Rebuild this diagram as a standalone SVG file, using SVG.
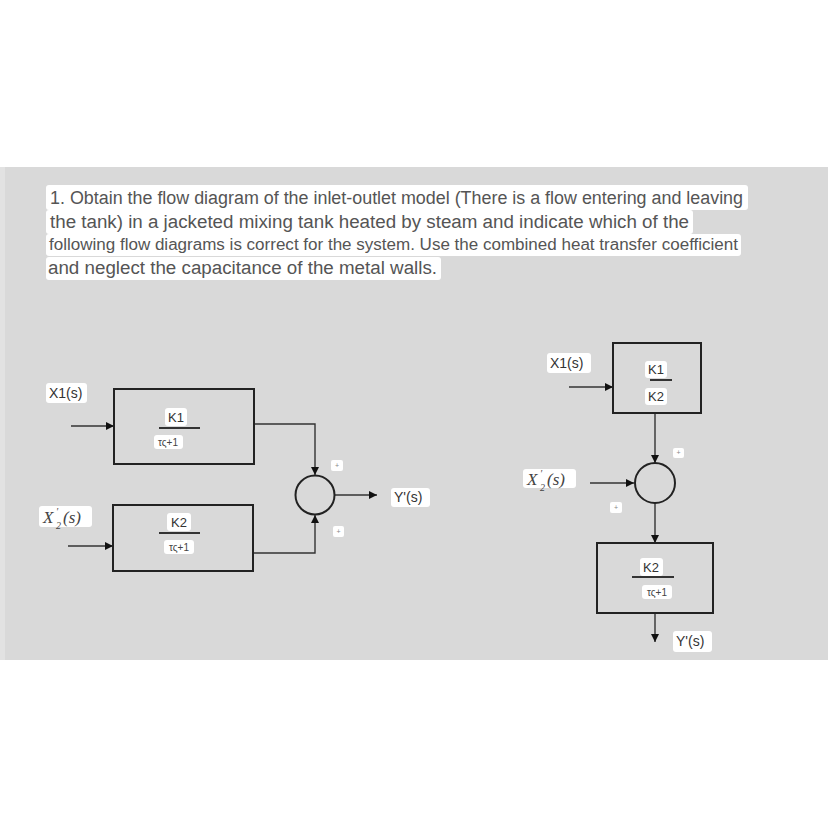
<svg xmlns="http://www.w3.org/2000/svg" width="828" height="828" viewBox="0 0 828 828">
<style>
.q{font-family:"Liberation Sans",Arial,sans-serif;fill:#555}
.lbl{font-family:"Liberation Sans",Arial,sans-serif;font-size:14px;fill:#333}
.math{font-family:"Liberation Serif","Times New Roman",serif;font-style:italic;fill:#444}
.frac{font-family:"Liberation Sans",Arial,sans-serif;font-size:13px;fill:#333;text-anchor:middle}
.den{font-family:"Liberation Sans",Arial,sans-serif;font-size:10px;fill:#444;text-anchor:middle}
.hl{fill:#fff;rx:3}
.tag{fill:#fff;rx:2}
.blk{fill:none;stroke:#222;stroke-width:2}
.wire{fill:none;stroke:#333;stroke-width:1.4}
.bar{stroke:#333;stroke-width:2}
.plus{font-family:"Liberation Sans",Arial,sans-serif;font-size:7px;fill:#888;text-anchor:middle}
</style>
<defs>
<marker id="ah" viewBox="0 0 10 10" refX="10" refY="5" markerWidth="8" markerHeight="8" markerUnits="userSpaceOnUse" orient="auto">
<path d="M0,0 L10,5 L0,10 z" fill="#111"/>
</marker>
</defs>
<rect x="0" y="0" width="828" height="828" fill="#fff"/>
<rect x="0" y="167" width="828" height="493" fill="#d9d9d9"/>
<rect x="0" y="167" width="5" height="493" fill="#e2e2e2"/>

<g id="question">
<rect class="hl" x="46" y="185" width="702" height="25"/>
<rect class="hl" x="46" y="210" width="647" height="24"/>
<rect class="hl" x="46" y="234" width="695" height="22"/>
<rect class="hl" x="46" y="257" width="395" height="23"/>
<text class="q" x="50" y="204" font-size="18" textLength="693" lengthAdjust="spacingAndGlyphs">1. Obtain the flow diagram of the inlet-outlet model (There is a flow entering and leaving</text>
<text class="q" x="50" y="228" font-size="18" textLength="639" lengthAdjust="spacingAndGlyphs">the tank) in a jacketed mixing tank heated by steam and indicate which of the</text>
<text class="q" x="49" y="250" font-size="16" textLength="689" lengthAdjust="spacingAndGlyphs">following flow diagrams is correct for the system. Use the combined heat transfer coefficient</text>
<text class="q" x="48" y="274" font-size="18" textLength="389" lengthAdjust="spacingAndGlyphs">and neglect the capacitance of the metal walls.</text>
</g>

<g id="connectors">
<line class="wire" x1="71" y1="426" x2="114" y2="426" marker-end="url(#ah)"/>
<line class="wire" x1="68" y1="546" x2="113" y2="546" marker-end="url(#ah)"/>
<polyline class="wire" points="254,424 315,424 315,475" marker-end="url(#ah)"/>
<polyline class="wire" points="253,553 315,553 315,515" marker-end="url(#ah)"/>
<line class="wire" x1="334" y1="495" x2="377" y2="495" marker-end="url(#ah)"/>
<line class="wire" x1="569" y1="387" x2="613" y2="387" marker-end="url(#ah)"/>
<line class="wire" x1="655" y1="413" x2="655" y2="463" marker-end="url(#ah)"/>
<line class="wire" x1="590" y1="483" x2="634" y2="483" marker-end="url(#ah)"/>
<line class="wire" x1="655" y1="503" x2="655" y2="543" marker-end="url(#ah)"/>
<line class="wire" x1="655" y1="613" x2="655" y2="642" marker-end="url(#ah)"/>
</g>

<g id="left-x1-label">
<rect class="hl" x="46" y="383" width="41" height="20"/>
<text class="lbl" x="49" y="398">X1(s)</text>
</g>
<g id="left-block-1">
<rect class="blk" x="114" y="389" width="140" height="75"/>
<rect class="hl" x="165" y="408" width="22" height="18"/>
<text class="frac" x="176" y="422">K1</text>
<line class="bar" x1="159" y1="428" x2="200" y2="428"/>
<rect class="hl" x="154" y="435" width="29" height="14"/>
<text class="den" x="168" y="446">τς+1</text>
</g>
<g id="left-x2-label">
<rect class="hl" x="39" y="506" width="53" height="21"/>
<text class="math" font-size="17"><tspan x="43" y="523">X</tspan><tspan x="56" y="515" font-size="10">′</tspan><tspan x="56" y="529" font-size="10">2</tspan><tspan x="63" y="523">(s)</tspan></text>
</g>
<g id="left-block-2">
<rect class="blk" x="113" y="505" width="140" height="66"/>
<rect class="hl" x="167" y="513" width="24" height="18"/>
<text class="frac" x="179" y="527">K2</text>
<line class="bar" x1="159" y1="533" x2="200" y2="533"/>
<rect class="hl" x="164" y="540" width="30" height="14"/>
<text class="den" x="179" y="551">τς+1</text>
</g>
<g id="left-sum">
<circle cx="315" cy="495" r="19.5" fill="none" stroke="#222" stroke-width="2"/>
<rect class="tag" x="331" y="460" width="12" height="11"/>
<text class="plus" x="337" y="468">+</text>
<rect class="tag" x="333" y="526" width="11" height="11"/>
<text class="plus" x="338.5" y="534">+</text>
</g>
<g id="left-y-label">
<rect class="hl" x="391" y="488" width="39" height="19"/>
<text class="lbl" x="394" y="502">Y'(s)</text>
</g>

<g id="right-x1-label">
<rect class="hl" x="547" y="353" width="44" height="20"/>
<text class="lbl" x="550" y="368">X1(s)</text>
</g>
<g id="right-block-1">
<rect class="blk" x="613" y="343" width="88" height="70"/>
<rect class="hl" x="645" y="361" width="22" height="17"/>
<text class="frac" x="656" y="374">K1</text>
<line class="bar" x1="650" y1="380" x2="672" y2="380"/>
<rect class="hl" x="645" y="388" width="22" height="17"/>
<text class="frac" x="656" y="401">K2</text>
</g>
<g id="right-x2-label">
<rect class="hl" x="523" y="469" width="53" height="19"/>
<text class="math" font-size="17"><tspan x="527" y="485">X</tspan><tspan x="540" y="477" font-size="10">′</tspan><tspan x="540" y="491" font-size="10">2</tspan><tspan x="547" y="485">(s)</tspan></text>
</g>
<g id="right-sum">
<circle cx="655" cy="483" r="20" fill="none" stroke="#222" stroke-width="2"/>
<rect class="tag" x="673" y="448" width="11" height="10"/>
<text class="plus" x="678.5" y="455">+</text>
<rect class="tag" x="610" y="502" width="12" height="11"/>
<text class="plus" x="616" y="510">+</text>
</g>
<g id="right-block-2">
<rect class="blk" x="597" y="543" width="116" height="70"/>
<rect class="hl" x="640" y="558" width="23" height="18"/>
<text class="frac" x="651" y="572">K2</text>
<line class="bar" x1="632" y1="577" x2="674" y2="577"/>
<rect class="hl" x="642" y="585" width="30" height="14"/>
<text class="den" x="657" y="596">τς+1</text>
</g>
<g id="right-y-label">
<rect class="hl" x="673" y="631" width="39" height="21"/>
<text class="lbl" x="676" y="646">Y'(s)</text>
</g>
</svg>
